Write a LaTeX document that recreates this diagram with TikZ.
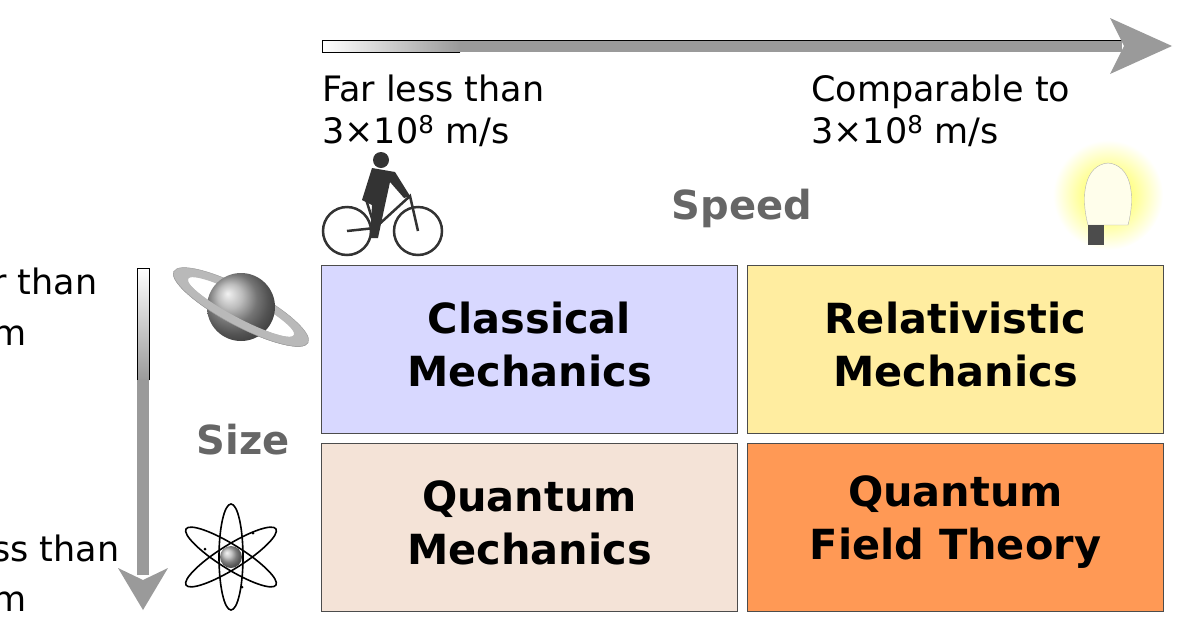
\documentclass[tikz,border=0pt]{standalone}
\usepackage{fontspec}
\setmainfont{DejaVu Sans}
\usetikzlibrary{shadings}
\definecolor{cm}{HTML}{D8D8FF}
\definecolor{rm}{HTML}{FFEDA0}
\definecolor{qm}{HTML}{F4E3D7}
\definecolor{qft}{HTML}{FF9955}
\definecolor{lab}{HTML}{666666}
\definecolor{arr}{HTML}{9A9A9A}
\tikzset{
 box/.style={draw=black!70,line width=1pt,minimum width=416pt,minimum height=168pt,anchor=north west,inner sep=0pt},
 boxtext/.style={align=center,font=\fontsize{41.5}{53}\selectfont\bfseries,inner sep=0pt},
 txt/.style={anchor=base west,font=\fontsize{35}{42}\selectfont,inner sep=0pt},
 axlab/.style={font=\fontsize{40}{48}\selectfont\bfseries,text=lab,inner sep=0pt}
}
\begin{document}
\begin{tikzpicture}[x=1pt,y=-1pt]
\useasboundingbox (0,0) rectangle (1200,630);
% top arrow
\shade[left color=white,right color=arr] (322,40) rectangle (460,52);
\fill[arr] (459,40) rectangle (1122,52);
\draw[black,line width=0.8pt] (322,40) -- (1122,40) (322,40) -- (322,52) -- (460,52);
\fill[arr] (1110,18) -- (1172,46) -- (1110,74) -- (1124,46) -- cycle;
% left arrow
\shade[top color=white,bottom color=arr] (137,268) rectangle (149,380);
\fill[arr] (137,379) rectangle (149,575);
\draw[black,line width=0.8pt] (137,380) -- (137,268) -- (149,268) -- (149,380);
\fill[arr] (118,568) -- (143,610) -- (168,568) -- (143,580) -- cycle;
% texts
\node[txt] (t1) at (322,101) {Far less than};
\node[txt] (t2) at (322,143) {3×10\textsuperscript{8} m/s};
\node[txt] (t3) at (811,101) {Comparable to};
\node[txt] (t4) at (811,143) {3×10\textsuperscript{8} m/s};
\node[txt] (l1) at (-8,294) {r than};
\node[txt] (l2) at (-8,345) {m};
\node[txt] (l3) at (-8,561) {ss than};
\node[txt] (l4) at (-8,611) {m};
\node[axlab] (speed) at (742,208) {Speed};
\node[axlab] (size) at (243,440) {Size};
% boxes
\node[box,fill=cm] (c) at (321,265) {};
\node[box,fill=rm] (r) at (747,265) {};
\node[box,fill=qm] (q) at (321,443) {};
\node[box,fill=qft] (f) at (747,443) {};
\node[boxtext] (ct) at ([yshift=5pt]c.center) {Classical\\Mechanics};
\node[boxtext] (rt) at ([yshift=5pt]r.center) {Relativistic\\Mechanics};
\node[boxtext] (qt) at ([yshift=5pt]q.center) {Quantum\\Mechanics};
\node[boxtext] (ft) at ([yshift=5pt]f.center) {Quantum\\Field Theory};
% saturn
\begin{scope}[shift={(241,307)},rotate=-28]
\fill[gray!55,even odd rule] (0,0) ellipse (76 and 19) (0,0) ellipse (60 and 11);
\draw[gray!80] (0,0) ellipse (76 and 19);
\end{scope}
\shade[ball color=gray!70] (241,307) circle (34);
\begin{scope}[shift={(241,307)},rotate=-28]
\clip (-80,0) rectangle (80,30);
\fill[gray!55,even odd rule] (0,0) ellipse (76 and 19) (0,0) ellipse (60 and 11);
\draw[gray!80] (0,0) ellipse (76 and 19);
\end{scope}
% atom
\begin{scope}[shift={(231,557)},line width=1.6pt]
\draw (0,0) ellipse (12 and 53);
\draw[rotate=58] (0,0) ellipse (12 and 53);
\draw[rotate=-58] (0,0) ellipse (12 and 53);
\shade[ball color=gray!60] (0,0) circle (11);
\fill (-26,-8) circle (1.5) (22,-24) circle (1.5) (11,30) circle (1.5);
\end{scope}
% cyclist
\begin{scope}[line width=2.5pt,black!80]
\draw (347,231) circle (24);
\draw (418,231) circle (24);
\draw (347,231) -- (375,228) -- (410,196) -- (418,231);
\draw (365,196) -- (375,228);
\fill (375,228) circle (5);
\fill (381,160) circle (8);
\fill (372,168) -- (395,172) -- (410,196) -- (404,198) -- (390,182) -- (385,205) -- (378,238) -- (370,238) -- (372,205) -- (362,200) -- cycle;
\end{scope}
% bulb
\shade[inner color=yellow!80,outer color=white] (1108,195) circle (55);
\draw[gray!60,fill=yellow!8] (1088,225) .. controls (1080,195) and (1085,165) .. (1108,163) .. controls (1131,165) and (1136,195) .. (1128,225) -- cycle;
\fill[black!70] (1088,225) rectangle (1104,245);
\end{tikzpicture}
\end{document}
